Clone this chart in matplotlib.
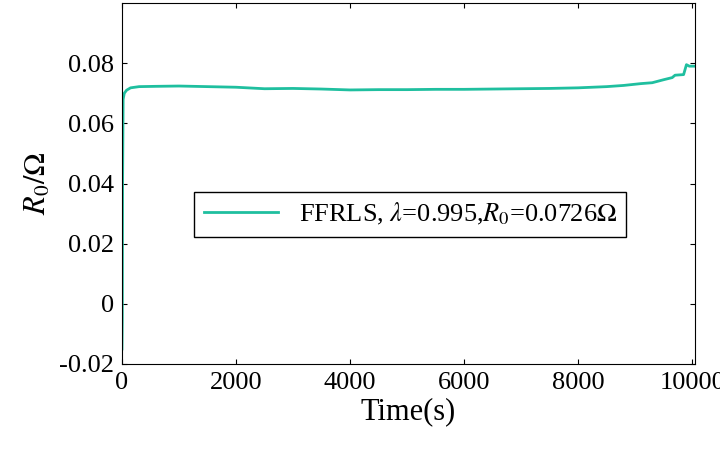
import matplotlib
matplotlib.use("Agg")
import matplotlib.pyplot as plt

plt.rcParams['font.family'] = ['Liberation Serif']
plt.rcParams['mathtext.fontset'] = 'stix'

time_s = [0, 5, 10, 20, 40, 80, 150, 300, 600, 1000, 1500, 2000, 2500, 3000, 3500, 4000,
          4500, 5000, 5500, 6000, 6500, 7000, 7500, 8000, 8500, 8800, 9100, 9300, 9500,
          9650, 9700, 9850, 9900, 9950, 10050]
r0 = [-0.015, -0.005, 0.040, 0.068, 0.0700, 0.0710, 0.0718, 0.0722, 0.0723, 0.0724, 0.0722,
      0.0720, 0.0715, 0.0716, 0.0714, 0.0711, 0.0712, 0.0712, 0.0713, 0.0713, 0.0714, 0.0715,
      0.0716, 0.0718, 0.0722, 0.0726, 0.0732, 0.0735, 0.0745, 0.0752, 0.0760, 0.0762, 0.0795,
      0.0790, 0.0790]

fig = plt.figure(figsize=(7.2, 4.49), dpi=100)
ax = fig.add_axes([122/720, 1-364/449, (695-122)/720, (364-3)/449])
ax.plot(time_s, r0, color='#1fbf9f', lw=2, label=r'FFRLS, $\lambda$=0.995,$R_0$=0.0726$\Omega$')
ax.set_xlim(0, 10050)
ax.set_ylim(-0.02, 0.1)
ax.set_xticks([0, 2000, 4000, 6000, 8000, 10000])
ax.set_yticks([-0.02, 0, 0.02, 0.04, 0.06, 0.08])
ax.set_yticklabels(['-0.02', '0', '0.02', '0.04', '0.06', '0.08'])
ax.tick_params(labelsize=19, direction='in', top=True, right=True, pad=6)
ax.set_xlabel('Time(s)', fontsize=22, labelpad=2)
ax.set_ylabel(r'$R_0/\Omega$', fontsize=22, labelpad=4)
leg = ax.legend(loc='center', bbox_to_anchor=(0.503, 0.415), fontsize=19, fancybox=False,
                edgecolor='black', framealpha=1, handlelength=2.8, borderpad=0.35)
leg.get_frame().set_linewidth(1)
fig.savefig('out.png', dpi=100)
